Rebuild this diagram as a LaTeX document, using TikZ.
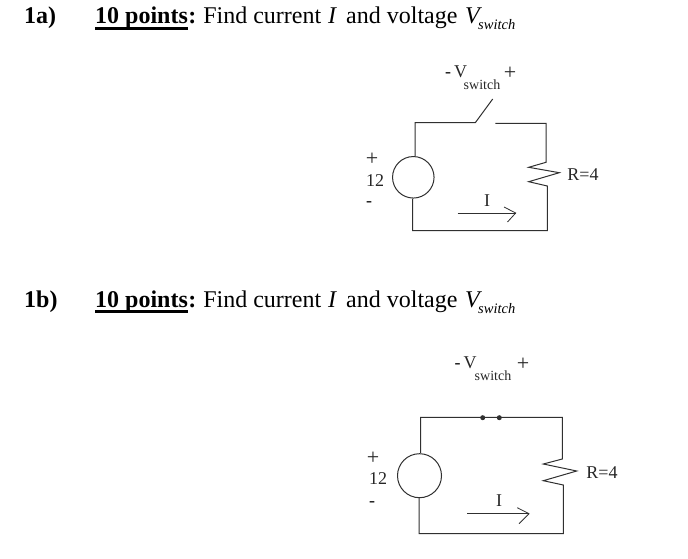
\documentclass[tikz,border=0pt]{standalone}
\usepackage{fontspec}
\setmainfont{Liberation Serif}
\definecolor{wirec}{HTML}{303030}
\tikzset{
  wire/.style={draw=wirec,line width=1pt},
  title/.style={anchor=base west,inner sep=0pt,font=\fontsize{24}{26}\selectfont},
  lab/.style={inner sep=0pt,text=black!85,font=\fontsize{18}{20}\selectfont},
  pluslab/.style={inner sep=0pt,text=black!85,font=\fontsize{22}{24}\selectfont},
  sublab/.style={inner sep=0pt,text=black!85,font=\fontsize{14}{16}\selectfont},
  src/.style={circle,draw=wirec,line width=1pt,inner sep=0pt},
  tick/.style={circle,fill=wirec,inner sep=0pt,minimum size=5pt}
}
\begin{document}
\begin{tikzpicture}[x=1pt,y=-1pt]
\useasboundingbox (0,0) rectangle (688,559);
% headings
\node[title] (ta) at (24,24) {\textbf{1a)}};
\node[title] (pa) at (95,24) {\textbf{10 points}};
\node[title,anchor=base west] (qa) at (pa.base east) {\textbf{:}\kern-1pt{} Find current};
\node[title] (ia) at (328,24) {\textit{I}};
\node[title] (ra) at (346,24) {and voltage};
\node[title] (va) at (465,24) {\textit{V}};
\node[title,font=\fontsize{14.5}{16}\selectfont\itshape] (sa) at (478,30) {switch};
\draw[line width=2.2pt] (pa.base west) ++(0,4.5) coordinate (ula) -- (ula -| pa.east);
\node[title] (tb) at (24,307) {\textbf{1b)}};
\node[title] (pb) at (95,307) {\textbf{10 points}};
\node[title,anchor=base west] (qb) at (pb.base east) {\textbf{:}\kern-1pt{} Find current};
\node[title] (ib) at (328,307) {\textit{I}};
\node[title] (rb) at (346,307) {and voltage};
\node[title] (vb) at (465,307) {\textit{V}};
\node[title,font=\fontsize{14.5}{16}\selectfont\itshape] (sb) at (478,313) {switch};
\draw[line width=2.2pt] (pb.base west) ++(0,4.5) coordinate (ulb) -- (ulb -| pb.east);
% circuit a
\node[src,minimum size=41.5pt] (va1) at (413.3,177.3) {};
\coordinate (a1) at (415,122.7);
\coordinate (a2) at (475.3,122.7);
\coordinate (a3) at (492.7,99);
\coordinate (a4) at (495.3,123.3);
\coordinate (a5) at (546,123.3);
\coordinate (a6) at (546,162.3);
\coordinate (a7) at (528.7,167.3);
\coordinate (a8) at (559.3,172.7);
\coordinate (a9) at (528.7,181.7);
\coordinate (a10) at (547.3,186);
\coordinate (a11) at (547.3,230.7);
\coordinate (a12) at (412.7,230.7);
\draw[wire] (va1.north -| a1) -- (a1) -- (a2) -- (a3);
\draw[wire] (a4) -- (a5) -- (a6) -- (a7) -- (a8) -- (a9) -- (a10) -- (a11) -- (a12) -- (a12 |- va1.south);
\coordinate (ca1) at (457.7,213);
\coordinate (ca2) at (515.7,213);
\coordinate (ca3) at (504,207);
\coordinate (ca4) at (507.5,222);
\draw[wire,line width=0.8pt] (ca1) -- (ca2);
\draw[wire,line width=0.8pt] (ca3) -- (ca2) -- (ca4);
\node[pluslab] (pl1) at (372,159.5) {+};
\node[lab] (n1) at (375,180.5) {12};
\node[lab] (m1) at (369,204) {\textbf{-}};
\node[lab] (r1) at (583,174.5) {R=4};
\node[lab] (c1) at (487,201) {I};
\node[lab] (vs1) at (456,71.5) {\textbf{-}\kern3pt V};
\node[pluslab] (vp1) at (510,73) {+};
\node[sublab] (vn1) at (482,85) {switch};
% circuit b
\node[src,minimum size=44pt] (vb1) at (419.5,475.7) {};
\coordinate (b1) at (420.7,417.3);
\coordinate (b2) at (562.3,417.3);
\coordinate (b3) at (562.3,459);
\coordinate (b4) at (543.3,464);
\coordinate (b5) at (576.7,471);
\coordinate (b6) at (543.3,480.7);
\coordinate (b7) at (563.3,485);
\coordinate (b8) at (563.3,533.7);
\coordinate (b9) at (419,533.7);
\draw[wire] (vb1.north -| b1) -- (b1) -- (b2) -- (b3) -- (b4) -- (b5) -- (b6) -- (b7) -- (b8) -- (b9) -- (b9 |- vb1.south);
\node[tick] (d1) at (482.7,417.7) {};
\node[tick] (d2) at (499.3,417.7) {};
\coordinate (cb1) at (467,513.7);
\coordinate (cb2) at (529,513.7);
\coordinate (cb3) at (517.3,507.7);
\coordinate (cb4) at (519,523.7);
\draw[wire,line width=0.8pt] (cb1) -- (cb2);
\draw[wire,line width=0.8pt] (cb3) -- (cb2) -- (cb4);
\node[pluslab] (pl2) at (373,458) {+};
\node[lab] (n2) at (378,479) {12};
\node[lab] (m2) at (372,503.5) {\textbf{-}};
\node[lab] (r2) at (602,473) {R=4};
\node[lab] (c2) at (499,500.5) {I};
\node[lab] (vs2) at (465.5,363) {\textbf{-}\kern3pt V};
\node[pluslab] (vp2) at (523,364.5) {+};
\node[sublab] (vn2) at (493,376) {switch};
\end{tikzpicture}
\end{document}
